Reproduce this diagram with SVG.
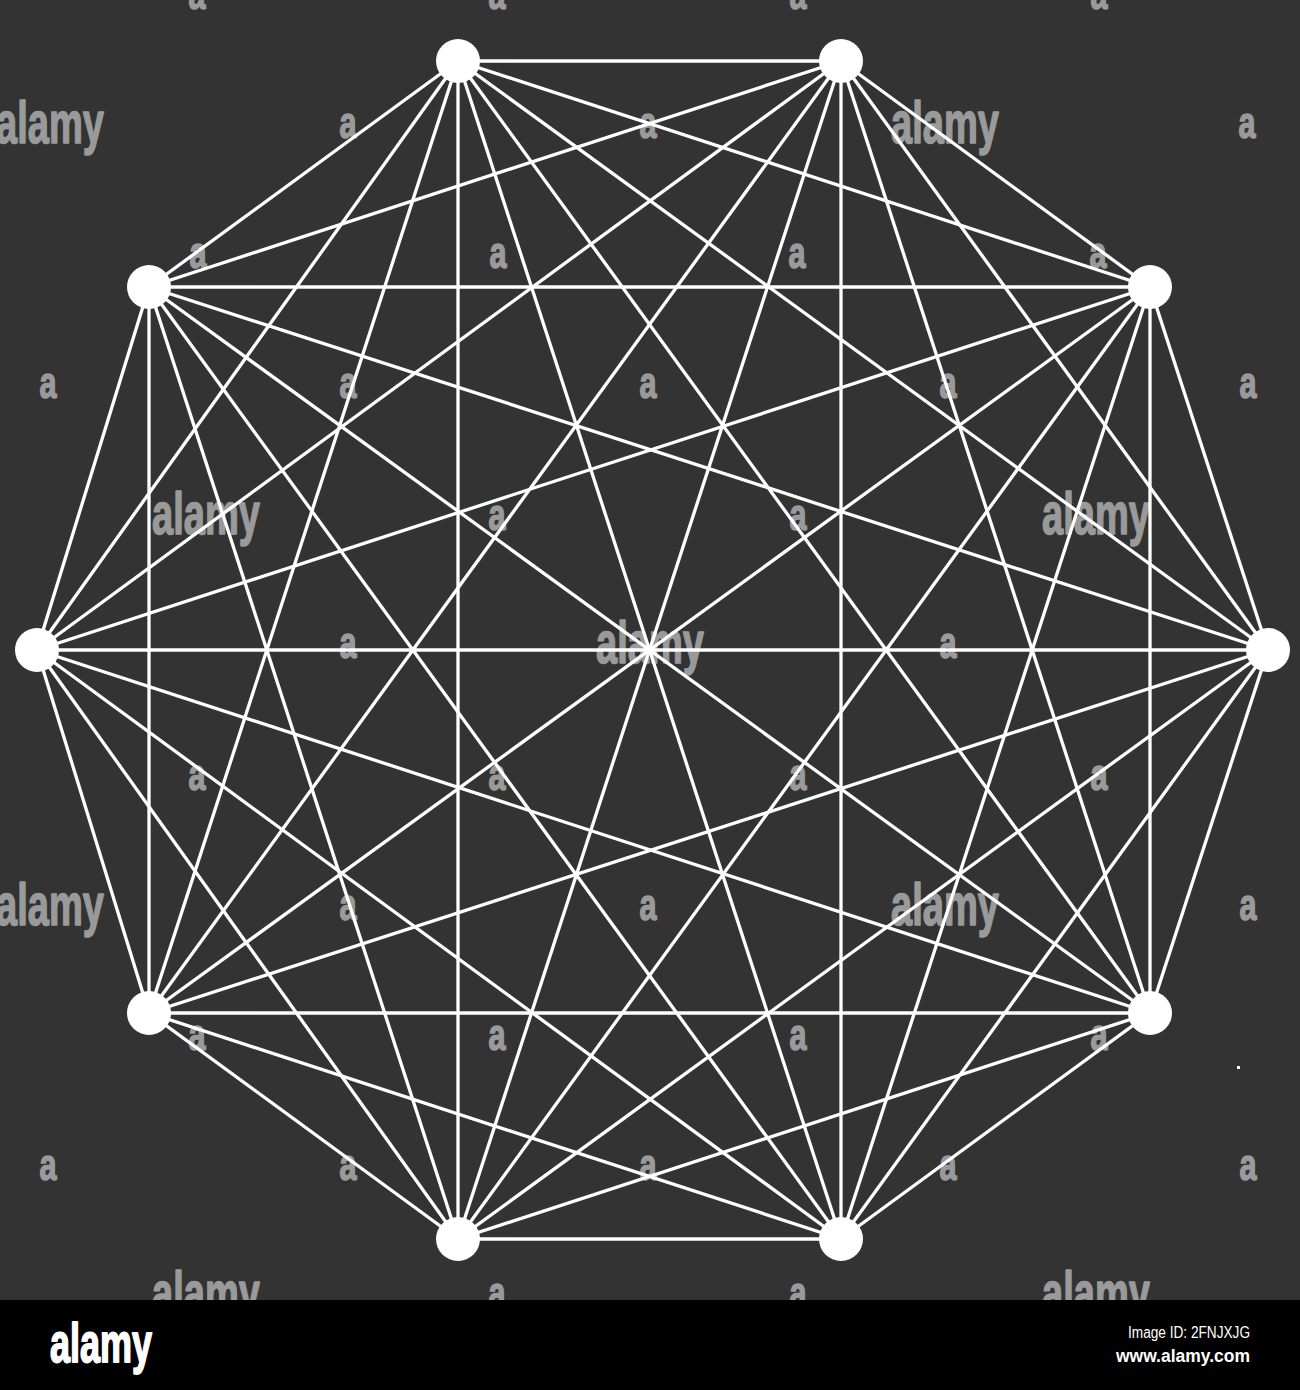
<svg xmlns="http://www.w3.org/2000/svg" width="1300" height="1390" viewBox="0 0 1300 1390">
<style>
.wm{font-family:"Liberation Sans",Arial,sans-serif;font-weight:bold;fill:#9a9a9a;stroke:#9a9a9a;stroke-width:1.6;stroke-linejoin:round}
.wa{font-size:44px;text-anchor:middle}
.wl{font-size:60px}
.edge{stroke:#ffffff;stroke-width:3.3;stroke-linecap:round;fill:none}
.node{fill:#ffffff}
.foot{font-family:"Liberation Sans",Arial,sans-serif;fill:#ffffff}
</style>
<rect x="0" y="0" width="1300" height="1390" fill="#333333"/>
<g id="watermark" class="wm">
<g class="wa">
<text x="197" y="9" textLength="17" lengthAdjust="spacingAndGlyphs">a</text>
<text x="497" y="9" textLength="17" lengthAdjust="spacingAndGlyphs">a</text>
<text x="798" y="9" textLength="17" lengthAdjust="spacingAndGlyphs">a</text>
<text x="1099" y="9" textLength="17" lengthAdjust="spacingAndGlyphs">a</text>
<text x="348" y="138" textLength="17" lengthAdjust="spacingAndGlyphs">a</text>
<text x="648" y="138" textLength="17" lengthAdjust="spacingAndGlyphs">a</text>
<text x="1247" y="138" textLength="17" lengthAdjust="spacingAndGlyphs">a</text>
<text x="198" y="268" textLength="17" lengthAdjust="spacingAndGlyphs">a</text>
<text x="498" y="268" textLength="17" lengthAdjust="spacingAndGlyphs">a</text>
<text x="797" y="268" textLength="17" lengthAdjust="spacingAndGlyphs">a</text>
<text x="1098" y="268" textLength="17" lengthAdjust="spacingAndGlyphs">a</text>
<text x="48" y="398" textLength="17" lengthAdjust="spacingAndGlyphs">a</text>
<text x="348" y="398" textLength="17" lengthAdjust="spacingAndGlyphs">a</text>
<text x="648" y="398" textLength="17" lengthAdjust="spacingAndGlyphs">a</text>
<text x="948" y="398" textLength="17" lengthAdjust="spacingAndGlyphs">a</text>
<text x="1248" y="398" textLength="17" lengthAdjust="spacingAndGlyphs">a</text>
<text x="497" y="530" textLength="17" lengthAdjust="spacingAndGlyphs">a</text>
<text x="798" y="530" textLength="17" lengthAdjust="spacingAndGlyphs">a</text>
<text x="348" y="658" textLength="17" lengthAdjust="spacingAndGlyphs">a</text>
<text x="948" y="658" textLength="17" lengthAdjust="spacingAndGlyphs">a</text>
<text x="197" y="790" textLength="17" lengthAdjust="spacingAndGlyphs">a</text>
<text x="497" y="790" textLength="17" lengthAdjust="spacingAndGlyphs">a</text>
<text x="798" y="790" textLength="17" lengthAdjust="spacingAndGlyphs">a</text>
<text x="1099" y="790" textLength="17" lengthAdjust="spacingAndGlyphs">a</text>
<text x="348" y="920" textLength="17" lengthAdjust="spacingAndGlyphs">a</text>
<text x="648" y="920" textLength="17" lengthAdjust="spacingAndGlyphs">a</text>
<text x="1248" y="920" textLength="17" lengthAdjust="spacingAndGlyphs">a</text>
<text x="197" y="1050" textLength="17" lengthAdjust="spacingAndGlyphs">a</text>
<text x="497" y="1050" textLength="17" lengthAdjust="spacingAndGlyphs">a</text>
<text x="798" y="1050" textLength="17" lengthAdjust="spacingAndGlyphs">a</text>
<text x="1099" y="1050" textLength="17" lengthAdjust="spacingAndGlyphs">a</text>
<text x="48" y="1180" textLength="17" lengthAdjust="spacingAndGlyphs">a</text>
<text x="348" y="1180" textLength="17" lengthAdjust="spacingAndGlyphs">a</text>
<text x="648" y="1180" textLength="17" lengthAdjust="spacingAndGlyphs">a</text>
<text x="948" y="1180" textLength="17" lengthAdjust="spacingAndGlyphs">a</text>
<text x="1248" y="1180" textLength="17" lengthAdjust="spacingAndGlyphs">a</text>
<text x="497" y="1308" textLength="17" lengthAdjust="spacingAndGlyphs">a</text>
<text x="798" y="1308" textLength="17" lengthAdjust="spacingAndGlyphs">a</text>
</g>
<g class="wl">
<text x="-4" y="143" textLength="108" lengthAdjust="spacingAndGlyphs">alamy</text>
<text x="891" y="143" textLength="108" lengthAdjust="spacingAndGlyphs">alamy</text>
<text x="152" y="534" textLength="108" lengthAdjust="spacingAndGlyphs">alamy</text>
<text x="1042" y="534" textLength="108" lengthAdjust="spacingAndGlyphs">alamy</text>
<text x="596" y="663" textLength="108" lengthAdjust="spacingAndGlyphs">alamy</text>
<text x="-4" y="925" textLength="108" lengthAdjust="spacingAndGlyphs">alamy</text>
<text x="891" y="925" textLength="108" lengthAdjust="spacingAndGlyphs">alamy</text>
<text x="152" y="1313" textLength="108" lengthAdjust="spacingAndGlyphs">alamy</text>
<text x="1042" y="1313" textLength="108" lengthAdjust="spacingAndGlyphs">alamy</text>
</g>
</g>
<g id="connectors" class="edge">
<line x1="458" y1="61" x2="841" y2="61"/>
<line x1="458" y1="61" x2="1150" y2="287"/>
<line x1="458" y1="61" x2="1268" y2="650"/>
<line x1="458" y1="61" x2="1150" y2="1013"/>
<line x1="458" y1="61" x2="841" y2="1239"/>
<line x1="458" y1="61" x2="458" y2="1239"/>
<line x1="458" y1="61" x2="149" y2="1013"/>
<line x1="458" y1="61" x2="37" y2="650"/>
<line x1="458" y1="61" x2="149" y2="287"/>
<line x1="841" y1="61" x2="1150" y2="287"/>
<line x1="841" y1="61" x2="1268" y2="650"/>
<line x1="841" y1="61" x2="1150" y2="1013"/>
<line x1="841" y1="61" x2="841" y2="1239"/>
<line x1="841" y1="61" x2="458" y2="1239"/>
<line x1="841" y1="61" x2="149" y2="1013"/>
<line x1="841" y1="61" x2="37" y2="650"/>
<line x1="841" y1="61" x2="149" y2="287"/>
<line x1="1150" y1="287" x2="1268" y2="650"/>
<line x1="1150" y1="287" x2="1150" y2="1013"/>
<line x1="1150" y1="287" x2="841" y2="1239"/>
<line x1="1150" y1="287" x2="458" y2="1239"/>
<line x1="1150" y1="287" x2="149" y2="1013"/>
<line x1="1150" y1="287" x2="37" y2="650"/>
<line x1="1150" y1="287" x2="149" y2="287"/>
<line x1="1268" y1="650" x2="1150" y2="1013"/>
<line x1="1268" y1="650" x2="841" y2="1239"/>
<line x1="1268" y1="650" x2="458" y2="1239"/>
<line x1="1268" y1="650" x2="149" y2="1013"/>
<line x1="1268" y1="650" x2="37" y2="650"/>
<line x1="1268" y1="650" x2="149" y2="287"/>
<line x1="1150" y1="1013" x2="841" y2="1239"/>
<line x1="1150" y1="1013" x2="458" y2="1239"/>
<line x1="1150" y1="1013" x2="149" y2="1013"/>
<line x1="1150" y1="1013" x2="37" y2="650"/>
<line x1="1150" y1="1013" x2="149" y2="287"/>
<line x1="841" y1="1239" x2="458" y2="1239"/>
<line x1="841" y1="1239" x2="149" y2="1013"/>
<line x1="841" y1="1239" x2="37" y2="650"/>
<line x1="841" y1="1239" x2="149" y2="287"/>
<line x1="458" y1="1239" x2="149" y2="1013"/>
<line x1="458" y1="1239" x2="37" y2="650"/>
<line x1="458" y1="1239" x2="149" y2="287"/>
<line x1="149" y1="1013" x2="37" y2="650"/>
<line x1="149" y1="1013" x2="149" y2="287"/>
<line x1="37" y1="650" x2="149" y2="287"/>
</g>
<g id="node-0"><circle class="node" cx="458" cy="61" r="22"/></g>
<g id="node-1"><circle class="node" cx="841" cy="61" r="22"/></g>
<g id="node-2"><circle class="node" cx="1150" cy="287" r="22"/></g>
<g id="node-3"><circle class="node" cx="1268" cy="650" r="22"/></g>
<g id="node-4"><circle class="node" cx="1150" cy="1013" r="22"/></g>
<g id="node-5"><circle class="node" cx="841" cy="1239" r="22"/></g>
<g id="node-6"><circle class="node" cx="458" cy="1239" r="22"/></g>
<g id="node-7"><circle class="node" cx="149" cy="1013" r="22"/></g>
<g id="node-8"><circle class="node" cx="37" cy="650" r="22"/></g>
<g id="node-9"><circle class="node" cx="149" cy="287" r="22"/></g>
<rect x="1237" y="1066" width="3" height="3" fill="#ffffff"/>
<g id="footer">
<rect x="0" y="1300" width="1300" height="90" fill="#000000"/>
<text class="foot" x="50" y="1362" font-size="55" font-weight="bold" stroke="#ffffff" stroke-width="1.8" stroke-linejoin="round" textLength="102" lengthAdjust="spacingAndGlyphs">alamy</text>
<text class="foot" x="1128" y="1338" font-size="16" textLength="122" lengthAdjust="spacingAndGlyphs">Image ID: 2FNJXJG</text>
<text class="foot" x="1116" y="1362" font-size="18" font-weight="bold" textLength="134" lengthAdjust="spacingAndGlyphs">www.alamy.com</text>
</g>
</svg>
